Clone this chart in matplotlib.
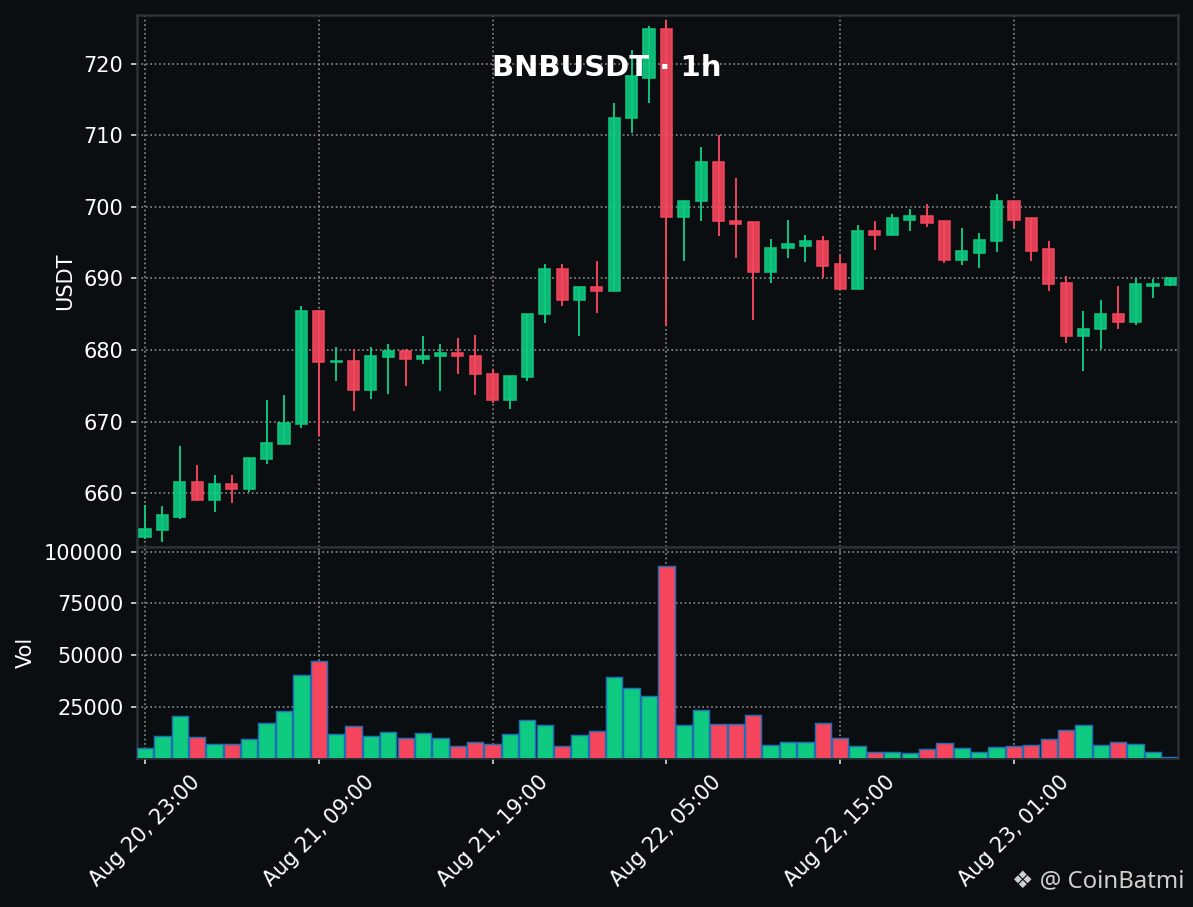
import numpy as np
import pandas as pd
import matplotlib
matplotlib.use('Agg')
import matplotlib.pyplot as plt


# ── Data (BNBUSDT, 1h candles) ───────────────────────────────────────────────

start_time = "2025-08-20 23:00"

opens = [653.8, 654.8, 656.7, 661.6, 659.0, 661.2, 660.5, 664.7, 666.8, 669.6,
         685.4, 678.3, 678.4, 674.4, 679.0, 679.8, 678.7, 679.2, 679.6, 679.2,
         676.7, 673.0, 676.2, 685.0, 691.3, 687.0, 688.8, 688.2, 712.4, 718.1,
         724.85, 698.6, 700.8, 706.25, 698.1, 697.9, 690.9, 694.2, 694.6, 695.3,
         692.0, 688.5, 696.6, 696.1, 698.2, 698.7, 698.0, 692.6, 693.6, 695.2,
         700.8, 698.4, 694.1, 689.4, 681.9, 682.9, 685.0, 683.9, 689.0, 689.1]

highs = [658.3, 658.2, 666.6, 663.9, 662.5, 662.5, 664.9, 673.0, 673.7, 686.2,
         685.6, 680.4, 680.1, 680.4, 680.8, 680.2, 682.0, 680.8, 681.7, 682.1,
         677.3, 676.4, 685.0, 692.0, 692.0, 688.8, 692.4, 714.5, 722.0, 725.3,
         726.2, 700.9, 708.4, 710.1, 704.0, 697.9, 695.5, 698.2, 696.1, 695.9,
         693.3, 697.5, 698.0, 699.0, 699.7, 700.4, 698.0, 697.1, 696.4, 701.8,
         700.8, 698.4, 695.2, 690.3, 685.5, 687.0, 689.0, 690.1, 689.9, 690.1]

lows = [653.6, 653.2, 656.3, 658.9, 657.4, 658.6, 660.1, 664.0, 666.8, 669.1,
        668.0, 675.7, 671.4, 673.1, 673.9, 675.0, 678.1, 674.2, 676.7, 673.7,
        672.6, 671.8, 675.7, 683.8, 686.1, 681.9, 685.2, 688.2, 710.4, 714.6,
        683.3, 692.5, 698.1, 696.0, 692.9, 684.2, 689.4, 692.9, 692.3, 690.1,
        688.5, 688.5, 694.0, 696.1, 696.6, 697.2, 692.1, 691.9, 691.4, 693.75,
        697.1, 692.5, 688.3, 681.0, 677.0, 680.1, 683.0, 683.5, 687.3, 689.0]

closes = [654.9, 656.9, 661.6, 659.0, 661.2, 660.5, 664.9, 667.0, 669.75, 685.4,
          678.3, 678.5, 674.4, 679.1, 679.8, 678.7, 679.2, 679.6, 679.1, 676.6,
          673.0, 676.3, 685.0, 691.3, 687.0, 688.8, 688.2, 712.5, 718.3, 724.85,
          698.6, 700.9, 706.25, 698.0, 697.6, 690.9, 694.2, 694.8, 695.3, 691.8,
          688.5, 696.6, 696.1, 698.4, 698.7, 697.8, 692.6, 693.8, 695.35, 700.8,
          698.2, 693.9, 689.3, 681.9, 683.0, 685.0, 683.9, 689.2, 689.2, 690.05]

volumes = [4960, 10740, 20380, 10260, 7180, 7180, 9300, 17150, 22780, 40270,
           47350, 11700, 15560, 10740, 12670, 9850, 12330, 9800, 5930, 7850,
           6890, 11700, 18450, 16040, 6210, 11220, 13150, 39160, 33860, 30010,
           92890, 16040, 23270, 16520, 16520, 20860, 6410, 7900, 8000, 17000,
           9780, 6210, 3030, 3030, 2550, 4620, 7370, 4960, 3030, 5440,
           5930, 6410, 9300, 13630, 16040, 6410, 7850, 6890, 3030, 900]

price_ticks = [660, 670, 680, 690, 700, 710, 720]
vol_ticks = [25000, 50000, 75000, 100000]


# ── Style ─────────────────────────────────────────────────────────────────────

BG = '#0b0e11'
UP = '#0ecb81'
DOWN = '#f6465d'
GRID = '#9a9a9a'
SPINE = '#2b3139'

o = np.array(opens)
h = np.array(highs)
l = np.array(lows)
c = np.array(closes)
v = np.array(volumes)
x = np.arange(len(o))
up = c >= o
colors = np.where(up, UP, DOWN)

times = pd.date_range(start_time, periods=len(o), freq='h')


def style_axis(ax):
    ax.set_facecolor(BG)
    for s in ax.spines.values():
        s.set_color(SPINE)
        s.set_linewidth(1.2)
    ax.tick_params(colors='#dddddd', labelcolor='white', labelsize=10,
                   length=3, width=0.8)
    ax.grid(True, color=GRID, linestyle=':', linewidth=0.8, alpha=0.9)
    ax.set_axisbelow(True)


# ── Figure ────────────────────────────────────────────────────────────────────

fig = plt.figure(figsize=(1193 / 150, 907 / 150), dpi=150, facecolor=BG)
ax1 = fig.add_axes([137 / 1193, 1 - 547 / 907, 1041 / 1193, 532 / 907])
ax2 = fig.add_axes([137 / 1193, 1 - 758 / 907, 1041 / 1193, 211 / 907],
                   sharex=ax1)
style_axis(ax1)
style_axis(ax2)

# candles
ax1.vlines(x, l, h, colors=colors, linewidth=0.9, zorder=2)
body_lo = np.minimum(o, c)
body_h = np.maximum(np.abs(c - o), 0.05)
ax1.bar(x, body_h, bottom=body_lo, width=0.64, color=colors,
        edgecolor=colors, linewidth=0.8, alpha=0.9, zorder=3)

ax1.set_ylim(652.45, 726.85)
ax1.set_yticks(price_ticks)
ax1.set_ylabel("USDT", color='white', fontsize=10)
ax1.tick_params(axis='x', labelbottom=False, length=0)

# volume
ax2.bar(x, v, width=0.94, color=colors, edgecolor='#1f6fb4',
        linewidth=0.7, zorder=3)
ax2.set_ylim(0.3 * v.min(), 1.1 * v.max())
ax2.set_yticks(vol_ticks)
ax2.set_ylabel("Vol", color='white', fontsize=10)

tick_idx = list(range(0, len(o), 10))
ax2.set_xticks(tick_idx)
ax2.set_xticklabels([times[i].strftime("%b %d, %H:%M") for i in tick_idx],
                    rotation=45, ha='center')
ax2.set_xlim(-0.46, len(o) - 0.56)

fig.text(607 / 1193, 1 - 68 / 907, "BNBUSDT · 1h", color='white',
         fontsize=14, fontweight='bold', ha='center', va='center', zorder=10)

fig.text(1185 / 1193, 1 - 881 / 907, "❖ @ CoinBatmi", color='#cfcfcf',
         fontsize=11.5, ha='right', va='center',
         family=['Noto Sans', 'DejaVu Sans'])

fig.savefig("out.png", dpi=150, facecolor=BG)
